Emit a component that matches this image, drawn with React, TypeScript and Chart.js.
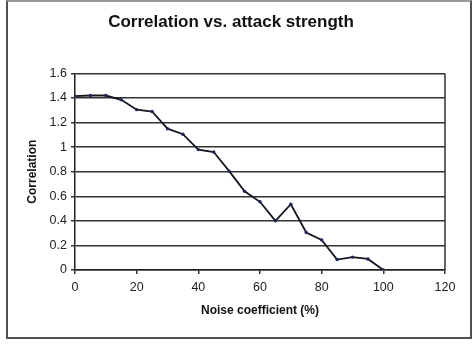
import React, { useEffect, useRef } from "react";
import { Chart, registerables } from "chart.js";

Chart.register(...registerables);

const noise = [0, 5, 10, 15, 20, 25, 30, 35, 40, 45, 50, 55, 60, 65, 70, 75, 80, 85, 90, 95, 100];
const correlation = [1.415, 1.42, 1.42, 1.385, 1.305, 1.29, 1.15, 1.105, 0.98, 0.96, 0.805, 0.64, 0.555, 0.4, 0.535, 0.305, 0.245, 0.085, 0.105, 0.09, 0.0];
const xTicks = [0, 20, 40, 60, 80, 100, 120];
const yTicks = [0, 0.2, 0.4, 0.6, 0.8, 1, 1.2, 1.4, 1.6];
const chartTitle = "Correlation vs. attack strength";
const xTitle = "Noise coefficient (%)";
const yTitle = "Correlation";

const FONT = "'Liberation Sans', Arial, sans-serif";

const rightBorder = {
  id: "rightBorder",
  afterDatasetsDraw(chart: any) {
    const { ctx, chartArea } = chart;
    ctx.save();
    ctx.strokeStyle = "#333";
    ctx.lineWidth = 1.5;
    ctx.beginPath();
    ctx.moveTo(chartArea.right, chartArea.top);
    ctx.lineTo(chartArea.right, chartArea.bottom);
    ctx.stroke();
    ctx.restore();
  },
};

export default function App() {
  const ref = useRef<HTMLCanvasElement | null>(null);

  useEffect(() => {
    if (!ref.current) return;
    const chart = new Chart(ref.current, {
      type: "line",
      data: {
        datasets: [
          {
            data: noise.map((x, i) => ({ x, y: correlation[i] })),
            borderColor: "#15151f",
            borderWidth: 1.8,
            pointRadius: 1.7,
            pointBackgroundColor: "#1d2659",
            pointBorderColor: "#1d2659",
            pointBorderWidth: 0,
            tension: 0,
            fill: false,
          },
        ],
      },
      options: {
        responsive: false,
        animation: false,
        layout: { padding: { left: 17, right: 29, top: 0, bottom: 36 } },
        plugins: {
          legend: { display: false },
          tooltip: { enabled: false },
          title: {
            display: true,
            text: chartTitle,
            color: "#111",
            font: { family: FONT, size: 17, weight: "bold" },
            padding: { top: 12, bottom: 41 },
          },
        },
        scales: {
          x: {
            type: "linear",
            min: 0,
            max: 120,
            afterFit: (s: any) => {
              s.height = 51;
            },
            afterBuildTicks: (s: any) => {
              s.ticks = xTicks.map((v) => ({ value: v }));
            },
            ticks: {
              color: "#222",
              font: { family: FONT, size: 12.5 },
              padding: 6,
              maxRotation: 0,
            },
            grid: {
              drawOnChartArea: false,
              drawTicks: true,
              tickLength: 4,
              color: "#333",
              lineWidth: 1.5,
            },
            border: { display: true, color: "#222", width: 1.5 },
            title: {
              display: true,
              text: xTitle,
              color: "#111",
              font: { family: FONT, size: 12, weight: "bold" },
              padding: { top: 4, bottom: 3 },
            },
          },
          y: {
            type: "linear",
            min: 0,
            max: 1.6,
            afterFit: (s: any) => {
              s.width = 58;
            },
            afterBuildTicks: (s: any) => {
              s.ticks = yTicks.map((v) => ({ value: v }));
            },
            ticks: {
              color: "#222",
              font: { family: FONT, size: 12.5 },
              padding: 4,
              callback: (v: any) => String(Math.round(v * 10) / 10),
            },
            grid: {
              drawOnChartArea: true,
              drawTicks: true,
              tickLength: 4,
              color: "#333",
              lineWidth: 1.5,
            },
            border: { display: true, color: "#222", width: 1.5 },
            title: {
              display: true,
              text: yTitle,
              color: "#111",
              font: { family: FONT, size: 12, weight: "bold" },
              padding: { top: 8, bottom: 4 },
            },
          },
        },
      },
      plugins: [rightBorder],
    });
    return () => chart.destroy();
  }, []);

  return (
    <div style={{ position: "fixed", left: 0, top: 0, width: 474, height: 357, background: "#fff" }}>
      <canvas ref={ref} width={474} height={357} style={{ position: "absolute", left: 0, top: 0, width: 474, height: 357 }} />
      <div
        style={{
          position: "absolute",
          left: 6,
          top: 0,
          width: 466,
          height: 339,
          boxSizing: "border-box",
          border: "2px solid #505050",
          borderTopColor: "#9a9a9a",
          pointerEvents: "none",
        }}
      />
    </div>
  );
}
